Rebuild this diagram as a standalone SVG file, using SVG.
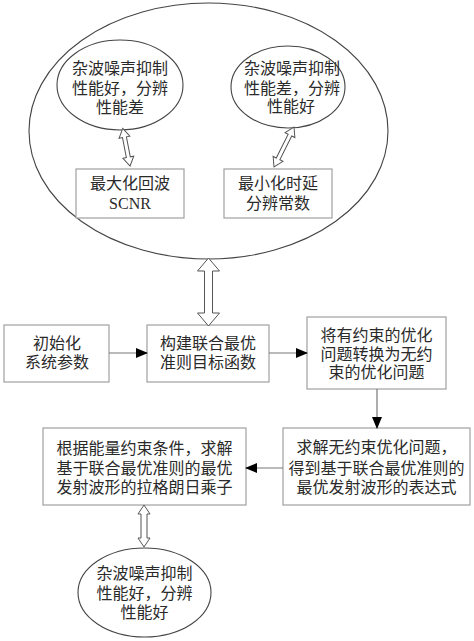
<svg xmlns="http://www.w3.org/2000/svg" width="474" height="641" viewBox="0 0 474 641">
<defs>
<style>
.t{font-family:"Liberation Serif","Noto Sans CJK SC",serif;font-size:16px;fill:#2a2a2a;text-anchor:middle}
.box{fill:#fff;stroke:#a0a0a0;stroke-width:1.2}
.ell{fill:#fff;stroke:#444;stroke-width:1.1}
.dbl{fill:#fff;stroke:#555;stroke-width:1}
.ln{stroke:#777;stroke-width:1.2;fill:none}
</style>
<marker id="ah" markerWidth="12" markerHeight="10" refX="11" refY="5" orient="auto" markerUnits="userSpaceOnUse">
<path d="M0,0 L12,5 L0,10 Z" fill="#000"/>
</marker>
</defs>
<rect width="474" height="641" fill="#fff"/>

<g id="outer">
<ellipse class="ell" cx="208.5" cy="131" rx="179.5" ry="128"/>
</g>

<g id="n_tl">
<ellipse class="ell" cx="120" cy="85" rx="63" ry="45"/>
<text class="t" x="120" y="74">杂波噪声抑制</text>
<text class="t" x="120" y="94">性能好，分辨</text>
<text class="t" x="120" y="113">性能差</text>
</g>
<g id="n_tr">
<ellipse class="ell" cx="288" cy="87" rx="57" ry="41"/>
<text class="t" x="292" y="74">杂波噪声抑制</text>
<text class="t" x="292" y="94">性能差，分辨</text>
<text class="t" x="291" y="112">性能好</text>
</g>
<g id="n_scnr">
<rect class="box" x="76" y="169" width="108" height="49"/>
<text class="t" x="130" y="189">最大化回波</text>
<text class="t" x="130" y="209">SCNR</text>
</g>
<g id="n_delay">
<rect class="box" x="224" y="169" width="108" height="49"/>
<text class="t" x="278" y="189">最小化时延</text>
<text class="t" x="278" y="209">分辨常数</text>
</g>

<g id="n_init">
<rect class="box" x="4" y="325" width="105" height="57"/>
<text class="t" x="57" y="349">初始化</text>
<text class="t" x="57" y="368">系统参数</text>
</g>
<g id="n_build">
<rect class="box" x="147" y="325" width="122" height="57"/>
<text class="t" x="208" y="349">构建联合最优</text>
<text class="t" x="208" y="368">准则目标函数</text>
</g>
<g id="n_convert">
<rect class="box" x="307" y="317" width="139" height="72"/>
<text class="t" x="376.5" y="341">将有约束的优化</text>
<text class="t" x="376.5" y="360">问题转换为无约</text>
<text class="t" x="376.5" y="378">束的优化问题</text>
</g>

<g id="n_lagrange">
<rect class="box" x="43" y="428" width="203" height="77"/>
<text class="t" x="144.5" y="454">根据能量约束条件，求解</text>
<text class="t" x="144.5" y="474">基于联合最优准则的最优</text>
<text class="t" x="144.5" y="493">发射波形的拉格朗日乘子</text>
</g>
<g id="n_solve">
<rect class="box" x="283" y="428" width="187" height="77"/>
<text class="t" x="376.5" y="453">求解无约束优化问题，</text>
<text class="t" x="376.5" y="474">得到基于联合最优准则的</text>
<text class="t" x="376.5" y="493">最优发射波形的表达式</text>
</g>

<g id="n_result">
<ellipse class="ell" cx="144.5" cy="592.5" rx="66.5" ry="44.5"/>
<text class="t" x="144.5" y="579">杂波噪声抑制</text>
<text class="t" x="144.5" y="599">性能好，分辨</text>
<text class="t" x="144.5" y="618">性能好</text>
</g>

<g id="connectors">
<line class="ln" x1="109" y1="353" x2="147" y2="353" marker-end="url(#ah)"/>
<line class="ln" x1="269" y1="353" x2="307" y2="353" marker-end="url(#ah)"/>
<line class="ln" x1="377" y1="389" x2="377" y2="428" marker-end="url(#ah)"/>
<line class="ln" x1="283" y1="468" x2="246" y2="468" marker-end="url(#ah)"/>
<!-- big double arrow -->
<polygon class="dbl" points="208.5,258 219.5,271 212.5,271 212.5,313 219.5,313 208.5,326 197.5,313 204.5,313 204.5,271 197.5,271"/>
<!-- bottom double arrow -->
<polygon class="dbl" points="144,505 150,514 147,514 147,538 150,538 144,547 138,538 141,538 141,514 138,514"/>
<!-- slanted left -->
<g transform="translate(126.4,147.2) rotate(-11)">
<polygon class="dbl" points="0,-19.2 5.5,-10.2 2,-10.2 2,10.2 5.5,10.2 0,19.2 -5.5,10.2 -2,10.2 -2,-10.2 -5.5,-10.2"/>
</g>
<!-- slanted right -->
<g transform="translate(284,147) rotate(26.6)">
<polygon class="dbl" points="0,-22.3 5.5,-13.3 2,-13.3 2,13.3 5.5,13.3 0,22.3 -5.5,13.3 -2,13.3 -2,-13.3 -5.5,-13.3"/>
</g>
</g>
</svg>
